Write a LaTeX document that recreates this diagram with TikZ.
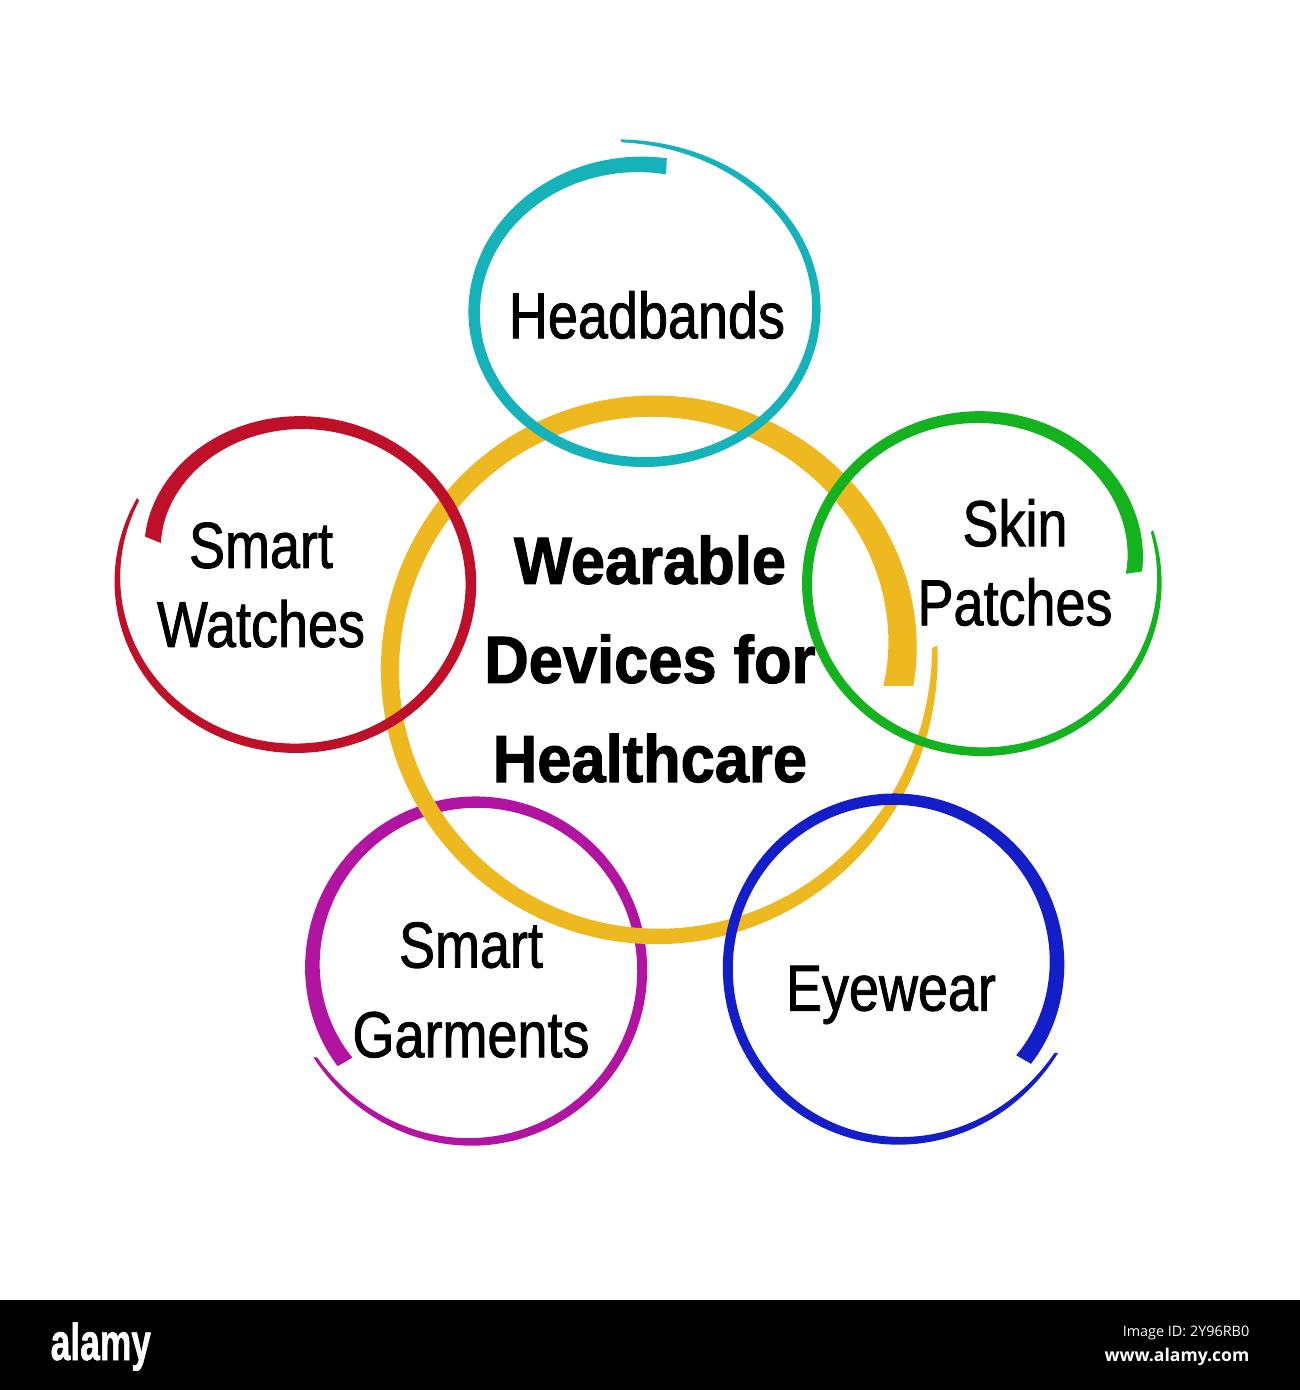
\documentclass[tikz,border=0pt]{standalone}
\usepackage{fontspec}
\setmainfont{Liberation Sans}
\newfontfamily\itemfont[FakeStretch=0.83, FakeBold=1.3]{Liberation Sans}
\newfontfamily\hubfont[FakeStretch=0.92, BoldFeatures={FakeBold=1.6}]{Liberation Sans}
\newfontfamily\logofont[FakeStretch=0.68, BoldFeatures={FakeBold=1}]{Liberation Sans}
\newfontfamily\idfont{Open Sans}
\usetikzlibrary{calc}
\usetikzlibrary{positioning}

\definecolor{ringyellow}{RGB}{238,184,32}
\definecolor{ringteal}{RGB}{22,178,186}
\definecolor{ringred}{RGB}{190,16,40}
\definecolor{ringgreen}{RGB}{20,178,30}
\definecolor{ringmagenta}{RGB}{176,20,160}
\definecolor{ringblue}{RGB}{20,30,200}

% brush ring: centre, rx, ry, start angle, end angle, flare out, curl in, width, colour
\newcommand{\brushring}[9]{%
  \fill[#9, shift={(#1)},
    declare function={
      rf(\t)=1+(#6)*(1-\t)^8-(#7)*\t^10;
      rw(\t)=(#8)*(1+0.7*\t^4-0.7*(1-\t)^6)/2;
      ra(\t)=(#4)+((#5)-(#4))*\t;}]
    plot[smooth, domain=0:1, samples=120, variable=\s]
      ({(#2*rf(\s)+rw(\s))*cos(ra(\s))}, {(#3*rf(\s)+rw(\s))*sin(ra(\s))})
    -- plot[smooth, domain=1:0, samples=120, variable=\s]
      ({(#2*rf(\s)-rw(\s))*cos(ra(\s))}, {(#3*rf(\s)-rw(\s))*sin(ra(\s))})
    -- cycle;}

\begin{document}
\begin{tikzpicture}[
    itemtext/.style={inner sep=0pt, align=center, font=\itemfont\fontsize{18.5}{22.5}\selectfont},
    hubtext/.style={inner sep=0pt, align=center, font=\hubfont\bfseries\fontsize{19}{28.2}\selectfont}]
    \useasboundingbox (0,0) rectangle (13,13.9);
    \fill[white] (0,0.9) rectangle (13,13.9);

    % ring centres
    \coordinate (hubc) at (6.55,7.20);
    \coordinate (headc) at (6.44,10.78);
    \coordinate (watchc) at (2.96,8.06);
    \coordinate (patchc) at (9.82,8.065);
    \coordinate (garmc) at (4.76,4.20);
    \coordinate (eyec) at (8.94,4.22);

    % rings
    \brushring{garmc}{1.66}{1.68}{208}{575}{0.10}{0.04}{0.10}{ringmagenta}
    \brushring{hubc}{2.65}{2.65}{5}{-364}{0.06}{0.08}{0.175}{ringyellow}
    \brushring{headc}{1.70}{1.50}{97}{-278}{0.15}{0.02}{0.095}{ringteal}
    \brushring{watchc}{1.75}{1.64}{150}{522}{0.04}{0.14}{0.10}{ringred}
    \brushring{patchc}{1.75}{1.68}{18}{-356}{0.02}{0.13}{0.095}{ringgreen}
    \brushring{eyec}{1.66}{1.69}{-27}{-395}{0.10}{0.05}{0.10}{ringblue}

    % texts
    \node[hubtext] (hub) at (6.50,7.31) {Wearable\\Devices for\\Healthcare};
    \node[itemtext] (headbands) at (6.47,10.75) {Headbands};
    \node[itemtext] (watches) at (2.61,8.05) {Smart\\Watches};
    \node[itemtext] (patches) at (10.15,8.275) {Skin\\Patches};
    \node[itemtext] (garments) at (4.71,4.00) {Smart\\[3pt]Garments};
    \node[itemtext] (eyewear) at (8.91,3.95) {Eyewear};

    % bottom strip
    \fill[black] (0,0) rectangle (13,0.90);
    \node[anchor=base west, inner sep=0pt, text=white,
      font=\logofont\bfseries\fontsize{14.8}{16}\selectfont] (logo) at (0.50,0.30) {alamy};
    \node[anchor=base east, inner sep=0pt, text=white,
      font=\idfont\fontsize{4.1}{5}\selectfont] (imageid) at (12.50,0.53) {Image ID: 2Y96RB0};
    \node[anchor=base east, inner sep=0pt, text=white,
      font=\idfont\bfseries\fontsize{5}{6}\selectfont] (site) at (12.50,0.29) {www.alamy.com};
\end{tikzpicture}
\end{document}
